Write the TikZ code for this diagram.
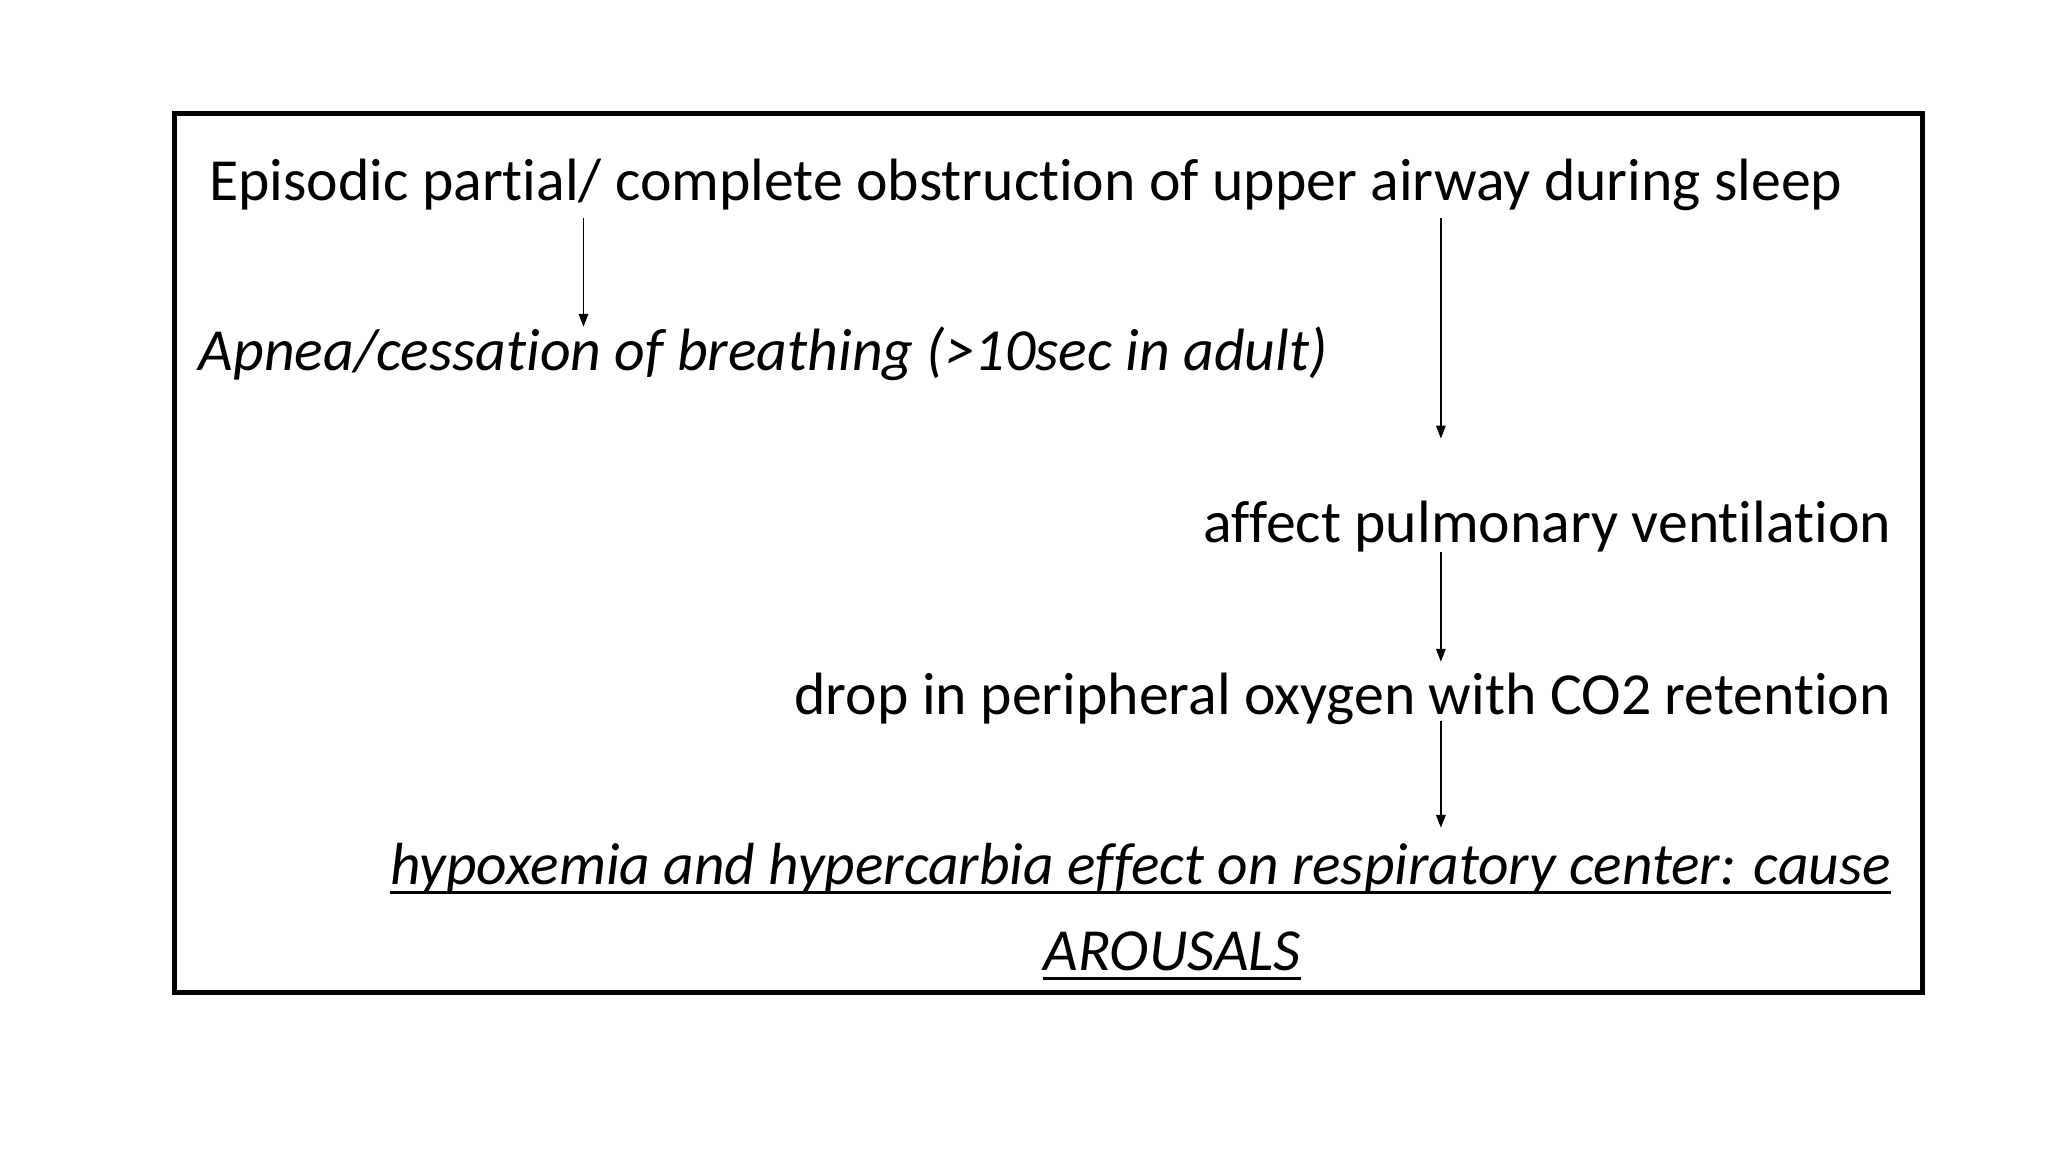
\documentclass[tikz,border=0pt]{standalone}
\usepackage{fontspec}
\setmainfont{Carlito}[Ligatures=NoCommon]
\usetikzlibrary{arrows.meta}
\begin{document}
\begin{tikzpicture}[x=1pt,y=1pt,
		every node/.style = {inner sep=0pt, font=\fontsize{28}{34}\selectfont},
		flow/.style = {-{Triangle[length=6pt,width=4.5pt]}, line width=0.6pt},
		uline/.style = {line width=1.3pt}]
		\useasboundingbox (0,0) rectangle (960,540);
		\draw[line width=2.4pt] (81.6,74.7) rectangle (901,486.6);
		\node[anchor=base west] (obstr) at (97.9,446) {Episodic partial/ complete obstruction of upper airway during sleep};
		\node[anchor=base west] (apnea) at (93,366.2) {\itshape Apnea/cessation of breathing (>10sec in adult)};
		\node[anchor=base east] (vent) at (886.6,285.8) {affect pulmonary ventilation};
		\node[anchor=base east] (oxy) at (886.6,205.2) {drop in peripheral oxygen with CO2 retention};
		\node[anchor=base east, font=\fontsize{27.85}{34}\selectfont] (hypo) at (886.6,125.5) {\itshape hypoxemia and hypercarbia effect on respiratory center: cause};
		\node[anchor=base] (arous) at (549.4,85.2) {\itshape AROUSALS};
		\draw[uline] ([yshift=-3.7pt]hypo.base west) -- ([yshift=-3.7pt]hypo.base east);
		\draw[uline] ([yshift=-3.7pt]arous.base west) -- ([yshift=-3.7pt]arous.base east);
		% arrows
		\coordinate (left) at (273.5,0);
		\coordinate (right) at (675.4,0);
		\draw[flow] ([yshift=-3pt]obstr.south -| left) -- (apnea.north -| left);
		\draw[flow, shorten >=29pt] ([yshift=-3pt]obstr.south -| right) -- (vent.north -| right);
		\draw[flow, shorten >=5pt] (vent.south -| right) -- (oxy.north -| right);
		\draw[flow, shorten >=7pt] ([yshift=2pt]oxy.south -| right) -- (hypo.north -| right);
	\end{tikzpicture}
\end{document}
